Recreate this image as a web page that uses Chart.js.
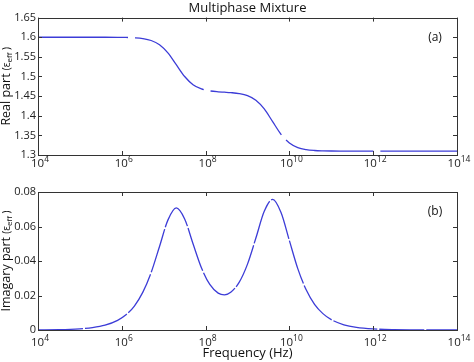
<!DOCTYPE html>
<html>
<head>
<meta charset="utf-8">
<title>Multiphase Mixture</title>
<script src="https://cdn.jsdelivr.net/npm/chart.js@4.4.0/dist/chart.umd.min.js"></script>
<style>
  html, body { margin: 0; padding: 0; background: #fff; }
  canvas { display: block; }
</style>
</head>
<body>
<canvas id="realChart" width="474" height="180"></canvas>
<canvas id="imagChart" width="474" height="182"></canvas>
<script>
// ---------------------------------------------------------------------------
// Data. Frequencies are given as exponents (Hz = 10^exp).
// ---------------------------------------------------------------------------
const freqExp = [4.0, 4.5, 5.0, 5.3, 5.6, 5.9, 6.1, 6.3, 6.5, 6.7, 6.9, 7.1, 7.3, 7.5, 7.7, 7.9,
  8.1, 8.3, 8.45, 8.6, 8.8, 9.0, 9.2, 9.4, 9.6, 9.8, 10.0, 10.2, 10.4, 10.6, 10.8, 11.0,
  11.3, 11.6, 12.0, 12.5, 13.0, 14.0];

const realPart = [1.600, 1.600, 1.600, 1.600, 1.600, 1.5998, 1.5995, 1.5986, 1.5966, 1.5917,
  1.5808, 1.5601, 1.530, 1.4999, 1.4791, 1.4683, 1.4633, 1.4610, 1.4600, 1.4589, 1.4565,
  1.4512, 1.4395, 1.4173, 1.385, 1.3527, 1.3305, 1.3189, 1.3137, 1.3115, 1.3106, 1.3102,
  1.3101, 1.310, 1.310, 1.310, 1.310, 1.310];

const imagPart = [0.0001, 0.0002, 0.0007, 0.0014, 0.0028, 0.0056, 0.0088, 0.0139, 0.0218,
  0.0333, 0.0484, 0.0637, 0.0708, 0.0644, 0.0500, 0.0361, 0.0264, 0.0214, 0.0204, 0.0219,
  0.0276, 0.0382, 0.0533, 0.0688, 0.0757, 0.0681, 0.0518, 0.0356, 0.0233, 0.0149, 0.0095,
  0.0060, 0.0030, 0.0015, 0.0006, 0.0002, 0.0001, 0.0000];

// Tick positions and their labels ("10" with a raised exponent)
const freqTicks = [1e4, 1e6, 1e8, 1e10, 1e12, 1e14];
const freqTickExponents = ["4", "6", "8", "10", "12", "14"];
const realTicks = [1.3, 1.35, 1.4, 1.45, 1.5, 1.55, 1.6, 1.65];
const realTickLabels = ["1.3", "1.35", "1.4", "1.45", "1.5", "1.55", "1.6", "1.65"];
const imagTicks = [0, 0.02, 0.04, 0.06, 0.08];
const imagTickLabels = ["0", "0.02", "0.04", "0.06", "0.08"];

const FONT = "'Open Sans', Lato, sans-serif";
const LINE_COLOR = "rgb(60, 60, 215)";

Chart.defaults.font.family = FONT;
Chart.defaults.color = "#222";

// ---------------------------------------------------------------------------
// Plugin: box frame, inward tick marks on all four sides, "10^n" tick labels,
// panel tag and the rotated y title with its "eff" subscript.
// ---------------------------------------------------------------------------
const framePlugin = {
  id: "frame",
  afterDraw(chart, args, opts) {
    const { ctx, chartArea: a, scales } = chart;
    ctx.save();
    ctx.strokeStyle = "#333";
    ctx.lineWidth = 1;
    ctx.strokeRect(Math.round(a.left) + 0.5, Math.round(a.top) + 0.5,
      Math.round(a.right - a.left), Math.round(a.bottom - a.top));

    ctx.beginPath();
    scales.x.ticks.forEach((t) => {
      const x = Math.round(scales.x.getPixelForValue(t.value)) + 0.5;
      ctx.moveTo(x, a.bottom); ctx.lineTo(x, a.bottom - 4);
      ctx.moveTo(x, a.top); ctx.lineTo(x, a.top + 4);
    });
    scales.y.ticks.forEach((t) => {
      const y = Math.round(scales.y.getPixelForValue(t.value)) + 0.5;
      ctx.moveTo(a.left, y); ctx.lineTo(a.left + 4, y);
      ctx.moveTo(a.right, y); ctx.lineTo(a.right - 4, y);
    });
    ctx.stroke();

    // x tick labels: "10" plus a smaller raised exponent
    ctx.fillStyle = "#222";
    ctx.textAlign = "left";
    ctx.textBaseline = "alphabetic";
    const baseY = a.bottom + opts.labelDrop;
    freqTicks.forEach((v, i) => {
      const x = scales.x.getPixelForValue(v);
      ctx.font = "11.5px " + FONT;
      const wBase = ctx.measureText("10").width;
      ctx.font = "8.5px " + FONT;
      const wExp = ctx.measureText(freqTickExponents[i]).width;
      const left = x - (wBase + wExp) / 2 + 2;
      ctx.font = "11.5px " + FONT;
      ctx.fillText("10", left, baseY);
      ctx.font = "8.5px " + FONT;
      ctx.fillText(freqTickExponents[i], left + wBase, baseY - 5);
    });

    // panel tag, e.g. "(a)"
    ctx.fillStyle = "#111";
    ctx.font = "12px " + FONT;
    ctx.textAlign = "center";
    ctx.textBaseline = "middle";
    ctx.fillText(opts.tag, a.right - 22, a.top + 20);

    // y title: pieces of [text, size, baseline shift]
    const parts = opts.yTitle;
    ctx.translate(6, (a.top + a.bottom) / 2);
    ctx.rotate(-Math.PI / 2);
    ctx.textAlign = "left";
    ctx.textBaseline = "alphabetic";
    let total = 0;
    const widths = parts.map((p) => {
      ctx.font = p[1] + "px " + FONT;
      const w = ctx.measureText(p[0]).width;
      total += w;
      return w;
    });
    let x = -total / 2;
    parts.forEach((p, i) => {
      ctx.font = p[1] + "px " + FONT;
      ctx.fillText(p[0], x, 4 + p[2]);
      x += widths[i];
    });
    ctx.restore();
  },
};

// Shared x axis (log frequency); labels are drawn by the frame plugin
function freqAxis(height, showTitle) {
  return {
    type: "logarithmic",
    min: 1e4,
    max: 1e14,
    afterBuildTicks: (axis) => { axis.ticks = freqTicks.map((v) => ({ value: v })); },
    afterFit: (axis) => { axis.height = height; },
    grid: { display: false, drawTicks: false },
    border: { display: false },
    ticks: { display: false },
    title: {
      display: showTitle,
      text: "Frequency (Hz)",
      font: { size: 13 },
      color: "#111",
      padding: { top: 0, bottom: 1 },
    },
  };
}

// Shared y axis (linear)
function valueAxis(min, max, ticks, labels) {
  return {
    min: min,
    max: max,
    afterBuildTicks: (axis) => { axis.ticks = ticks.map((v) => ({ value: v })); },
    afterFit: (axis) => { axis.width = 38; },
    grid: { display: false, drawTicks: false },
    border: { display: false },
    ticks: {
      padding: 2,
      autoSkip: false,
      font: { size: 11 },
      callback: (value, index) => labels[index],
    },
  };
}

function lineData(values, dash) {
  return {
    datasets: [{
      data: freqExp.map((e, i) => ({ x: Math.pow(10, e), y: values[i] })),
      borderColor: LINE_COLOR,
      borderWidth: 1.3,
      borderDash: dash,
      pointRadius: 0,
      cubicInterpolationMode: "monotone",
      clip: 4,
    }],
  };
}

// --- (a) real part ----------------------------------------------------------
new Chart(document.getElementById("realChart"), {
  type: "line",
  data: lineData(realPart, [90, 7]),
  options: {
    responsive: false,
    animation: false,
    layout: { padding: { left: 0, right: 17, top: 0, bottom: 0 } },
    scales: {
      x: freqAxis(25, false),
      y: valueAxis(1.3, 1.65, realTicks, realTickLabels),
    },
    plugins: {
      legend: { display: false },
      tooltip: { enabled: false },
      title: {
        display: true,
        text: "Multiphase Mixture",
        fullSize: false,
        font: { size: 13, weight: "normal" },
        color: "#111",
        padding: { top: 0, bottom: 2 },
      },
      frame: {
        tag: "(a)",
        labelDrop: 12,
        yTitle: [["Real part ", 12.5, 0], ["(ε", 10, 0], ["eff", 8, 2], [" )", 10, 0]],
      },
    },
  },
  plugins: [framePlugin],
});

// --- (b) imaginary part -----------------------------------------------------
new Chart(document.getElementById("imagChart"), {
  type: "line",
  data: lineData(imagPart, [45, 2]),
  options: {
    responsive: false,
    animation: false,
    layout: { padding: { left: 0, right: 17, top: 12, bottom: 0 } },
    scales: {
      x: freqAxis(32, true),
      y: valueAxis(0, 0.08, imagTicks, imagTickLabels),
    },
    plugins: {
      legend: { display: false },
      tooltip: { enabled: false },
      frame: {
        tag: "(b)",
        labelDrop: 16,
        yTitle: [["Imagary part ", 12.5, 0], ["(ε", 10, 0], ["eff", 8, 2], [" )", 10, 0]],
      },
    },
  },
  plugins: [framePlugin],
});
</script>
</body>
</html>
